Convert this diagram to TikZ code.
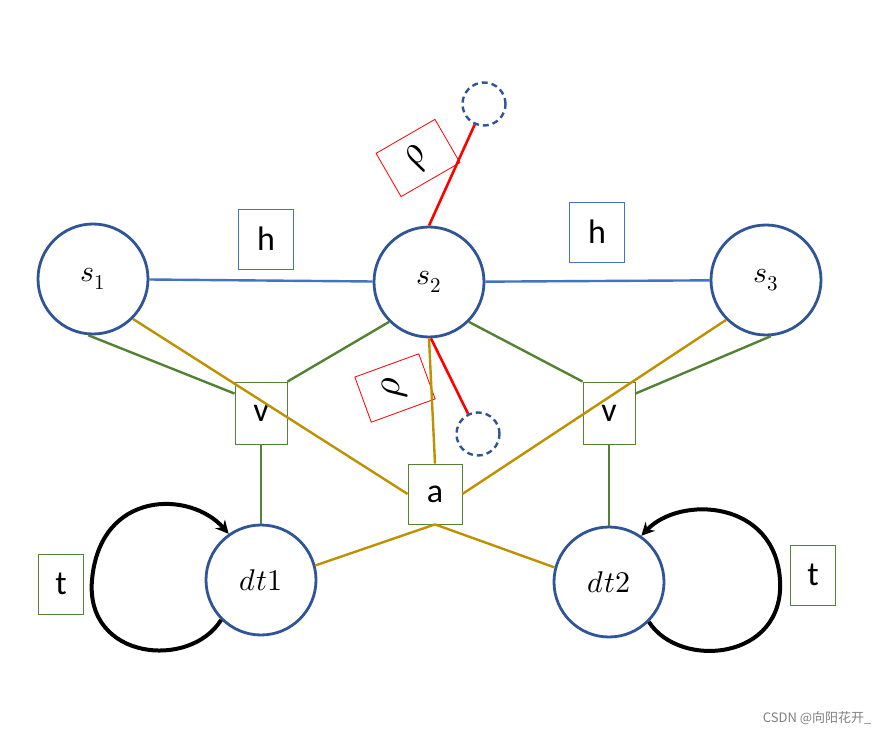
\documentclass[tikz,border=0pt]{standalone}
\usepackage{fontspec}
\usepackage{unicode-math}
\setmathfont{Latin Modern Math}
\setsansfont{Carlito}
\newfontfamily\cjk{Noto Sans CJK SC}
\usetikzlibrary{arrows.meta}
\definecolor{nb}{HTML}{2F5597}
\definecolor{eb}{HTML}{4472C4}
\definecolor{eg}{HTML}{548235}
\definecolor{eo}{HTML}{BF9000}
\tikzset{
 st/.style={circle,draw=nb,line width=2.8pt,minimum size=110pt,inner sep=0pt,font=\fontsize{30}{32}\selectfont},
 dc/.style={circle,draw=nb,line width=2.4pt,dash pattern=on 6pt off 4pt,minimum size=43pt,inner sep=0pt},
 lb/.style={draw,line width=0.8pt,inner sep=0pt,font=\sffamily\fontsize{34}{36}\selectfont},
 be/.style={eb,line width=2.4pt},
 ge/.style={eg,line width=2.4pt},
 oe/.style={eo,line width=2.4pt},
 re/.style={red,line width=2.6pt},
 lp/.style={black,line width=4pt,-{Stealth[length=13pt,width=13pt]}}
}
\begin{document}
\begin{tikzpicture}[x=1pt,y=-1pt]
\useasboundingbox (0,0) rectangle (887,738);
\node[st] (s1) at (93,279) {$s_1$};
\node[st] (s2) at (429,282) {$s_2$};
\node[st] (s3) at (766,280) {$s_3$};
\node[st] (d1) at (261,580) {$dt1$};
\node[st] (d2) at (609,582) {$dt2$};
\node[dc] (c1) at (484,104) {};
\node[dc] (c2) at (478,434) {};
\node[lb,draw=eg,minimum width=52pt,minimum height=62pt] (v1) at (261,413) {v};
\node[lb,draw=eg,minimum width=52pt,minimum height=62pt] (v2) at (609,413) {v};
\node[lb,draw=eg,minimum width=54pt,minimum height=60pt] (a) at (435,494) {a};
\node[lb,draw=eb,minimum width=55pt,minimum height=60pt] (h1) at (266,239) {h};
\node[lb,draw=eb,minimum width=55pt,minimum height=60pt] (h2) at (597,232) {h};
\node[lb,draw=eg,minimum width=45pt,minimum height=60pt] (t1) at (61,584) {t};
\node[lb,draw=eg,minimum width=45pt,minimum height=60pt] (t2) at (813,575) {t};
\node[lb,draw=red,minimum width=68pt,minimum height=50pt,rotate=-150,font=\fontsize{40}{42}\selectfont] (r1) at (418,158) {\rotatebox[origin=c]{210}{$\boldsymbol{\rho}$}};
\node[lb,draw=red,minimum width=68pt,minimum height=48pt,rotate=-160,font=\fontsize{40}{42}\selectfont] (r2) at (395,388) {\rotatebox[origin=c]{250}{$\boldsymbol{\rho}$}};
\node[text=gray,font=\cjk\fontsize{13}{14}\selectfont,anchor=east] (wm) at (875,718) {CSDN @向阳花开\_};
\draw[be] (s1) -- (s2);
\draw[be] (s2) -- (s3);
\draw[ge] (s1.-95) -- ([yshift=-12pt]v1.north west);
\draw[ge] (s2.-135) -- (v1.north east);
\draw[ge] (s2.-45) -- (v2.north west);
\draw[ge] (s3.-85) -- ([yshift=-12pt]v2.north east);
\draw[ge] (v1) -- (d1);
\draw[ge] (v2) -- (d2);
\draw[oe] (s1.-45) -- (a.west);
\draw[oe] (s3.-135) -- (a.east);
\draw[oe] (s2.south) -- (a.north);
\draw[oe] (a.south) -- (d1.15);
\draw[oe] (a.south) -- (d2.165);
\draw[re] (s2.north) -- (c1);
\draw[re] (s2.-88) -- (c2);
\draw[lp] (d1.-135) .. controls (190,670) and (85,660) .. (92,580) .. controls (100,490) and (190,490) .. (d1.125);
\draw[lp] (d2.-45) .. controls (680,670) and (785,660) .. (780,580) .. controls (775,500) and (680,495) .. (d2.55);
\end{tikzpicture}
\end{document}
